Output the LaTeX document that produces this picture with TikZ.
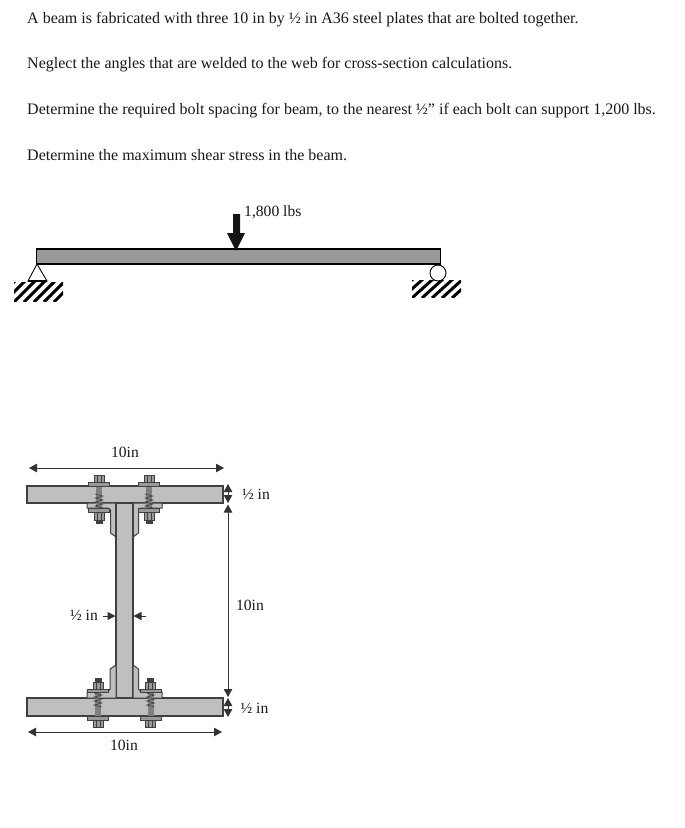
\documentclass[tikz,border=0pt]{standalone}
\usepackage{fontspec}
\setmainfont{Liberation Serif}
\usetikzlibrary{arrows.meta}
\definecolor{plate}{gray}{0.75}
\definecolor{beamgray}{gray}{0.6}
\definecolor{edge}{gray}{0.25}
\definecolor{shaftgray}{gray}{0.5}
\tikzset{
  para/.style={anchor=base west,inner sep=0pt,font=\fontsize{16}{18}\selectfont,text=black!90},
  dimlabel/.style={inner sep=0pt,font=\fontsize{15.6}{18}\selectfont,text=black!90},
  dimline/.style={draw=black!80,line width=1pt},
  dimboth/.style={dimline,{Triangle[length=8pt,width=8.5pt]}-{Triangle[length=8pt,width=8.5pt]}},
  dimhead/.style={dimline,-{Triangle[length=8pt,width=8pt]}},
  platepart/.style={fill=plate,draw=edge,line width=1.2pt},
  anglepart/.style={fill=plate,draw=edge,line width=1pt},
  smallpart/.style={fill=plate!80!black,draw=edge,line width=1pt},
  hatchline/.style={black,line width=3pt},
  threadline/.style={draw=edge,line width=0.6pt}
}
\newcommand{\boltshaft}[3]{% x, y from, y to
  \fill[shaftgray] (#1-3,#2) rectangle (#1+3,#3);
}
\newcommand{\threadmark}[2]{% x, y start: zigzag going down
  \draw[threadline] (#1-4,#2) -- (#1+4,#2+2) -- (#1-4,#2+4) -- (#1+4,#2+6) -- (#1-4,#2+8) -- (#1+4,#2+10) -- (#1-4,#2+12) -- (#1+4,#2+14);
}
\newcommand{\hexhead}[3]{% x, y1, y2
  \draw[smallpart] (#1-5,#2) rectangle (#1+5,#3);
  \draw[edge,line width=0.6pt] (#1-2,#2) -- (#1-2,#3) (#1+2,#2) -- (#1+2,#3);
}
\newcommand{\washerpart}[3]{% x, y1, y2
  \draw[smallpart] (#1-10.5,#2) rectangle (#1+10.5,#3);
}
\newcommand{\hatchblock}[4]{% x1,y1,x2,y2
  \begin{scope}
    \clip (#1,#2) rectangle (#3,#4);
    \foreach \k in {-3,...,7}{
      \draw[hatchline] (#1+\k*10,#4+1) -- (#1+\k*10+21,#2-1);
    }
  \end{scope}
}
\begin{document}
\begin{tikzpicture}[x=1pt,y=-1pt]
\useasboundingbox (0,0) rectangle (685,828);
% text
\node[para] (t1) at (27,23) {A beam is fabricated with three 10 in by ½ in A36 steel plates that are bolted together.};
\node[para] (t2) at (27,68) {Neglect the angles that are welded to the web for cross-section calculations.};
\node[para] (t3) at (27,114) {Determine the required bolt spacing for beam, to the nearest ½” if each bolt can support 1,200 lbs.};
\node[para] (t4) at (27,160) {Determine the maximum shear stress in the beam.};
% beam
\draw[fill=beamgray,draw=black,line width=1.1pt] (36.5,249) rectangle (440.5,264);
\draw[black,line width=0.9pt,fill=white] (37,264) -- (28,281) -- (47,281) -- cycle;
\draw[black,line width=1.8pt] (28,281) -- (47,281);
\hatchblock{14}{282}{63}{301}
\draw[black,line width=0.9pt,fill=white] (438,273) circle (8);
\hatchblock{412}{280}{461}{297}
% load
\fill[black!92] (233,214) -- (240,214) -- (240,233) -- (245,233) -- (236,251) -- (227,233) -- (233,233) -- cycle;
\node[dimlabel,anchor=west] (load) at (244,212) {1,800 lbs};
% top flange and angles
\draw[platepart] (27,486) rectangle (223,503);
\draw[anglepart] (116,503) -- (87,503) -- (87,508) -- (108,508) -- (110.5,510) -- (110.5,533) -- (116,537) -- cycle;
\draw[anglepart] (133,503) -- (162,503) -- (162,508) -- (141,508) -- (138.5,510) -- (138.5,533) -- (133,537) -- cycle;
% top bolts
\boltshaft{99}{486}{510}\boltshaft{149}{486}{510}
\threadmark{99}{494}\threadmark{149}{494}
\hexhead{99}{475}{482}\hexhead{149}{475}{482}
\washerpart{99}{482}{486}\washerpart{149}{482}{486}
\washerpart{99}{508}{512}\washerpart{149}{508}{512}
\hexhead{99}{512}{520}\hexhead{149}{512}{520}
\fill[black!75] (95.5,520) rectangle (102.5,524);
\fill[black!75] (145.5,520) rectangle (152.5,524);
% web
\draw[platepart] (116,503) rectangle (133,698);
% bottom flange and angles
\draw[platepart] (27,698) rectangle (223,716);
\draw[anglepart] (116,698) -- (87,698) -- (87,692) -- (108,692) -- (110,689) -- (110,669) -- (116,665) -- cycle;
\draw[anglepart] (133,698) -- (162,698) -- (162,692) -- (141,692) -- (138.5,689) -- (138.5,669) -- (133,665) -- cycle;
% bottom bolts
\fill[black!75] (94.5,678) rectangle (101.5,682);
\fill[black!75] (147,678) rectangle (154,682);
\boltshaft{98}{692}{716}\boltshaft{150.5}{692}{716}
\threadmark{98}{693}\threadmark{150.5}{693}
\hexhead{98}{682}{689}\hexhead{150.5}{682}{689}
\washerpart{98}{689}{692}\washerpart{150.5}{689}{692}
\washerpart{98}{716}{720}\washerpart{150.5}{716}{720}
\hexhead{98}{720}{727}\hexhead{150.5}{720}{727}
% dimensions
\coordinate (topL) at (29,468); \coordinate (topR) at (224,468);
\draw[dimboth] (topL) -- (topR);
\node[dimlabel] (lab1) at (125,452) {10in};
\coordinate (ha) at (228,484); \coordinate (hb) at (228,503);
\draw[dimboth] (ha) -- (hb);
\node[dimlabel] (lab2) at (256,494) {½ in};
\coordinate (va) at (228,504.5); \coordinate (vb) at (228,697);
\draw[dimboth] (va) -- (vb);
\node[dimlabel] (lab3) at (250,605) {10in};
\coordinate (ja) at (228,698); \coordinate (jb) at (228,717);
\draw[dimboth] (ja) -- (jb);
\node[dimlabel] (lab4) at (254.5,708) {½ in};
\coordinate (botL) at (28,732); \coordinate (botR) at (222,732);
\draw[dimboth] (botL) -- (botR);
\node[dimlabel] (lab5) at (124,745) {10in};
\node[dimlabel] (lab6) at (84,615) {½ in};
\coordinate (wa) at (103,616); \coordinate (wb) at (115.5,616);
\coordinate (wc) at (146,616); \coordinate (wd) at (133.5,616);
\draw[dimhead] (wa) -- (wb);
\draw[dimhead] (wc) -- (wd);
\end{tikzpicture}
\end{document}
